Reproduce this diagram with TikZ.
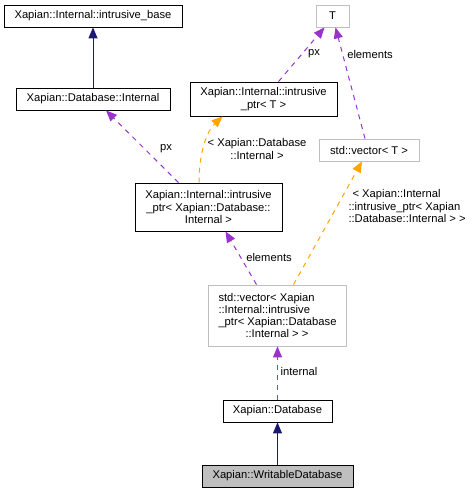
\documentclass[tikz,border=0pt]{standalone}
\usepackage{fontspec}
\setmainfont{Liberation Sans}
\usetikzlibrary{arrows.meta}
\definecolor{inherit}{HTML}{191970}
\definecolor{usage}{HTML}{9A32CD}
\definecolor{templ}{HTML}{FFA500}
\definecolor{boxgray}{HTML}{BFBFBF}
\begin{document}
\begin{tikzpicture}[x=1pt,y=-1pt,font=\fontsize{11.2}{12.3}\selectfont,
 cls/.style={draw=black,inner sep=0pt,align=center,minimum height=22pt,line width=.8pt},
 tmpl/.style={cls,draw=boxgray},
 lbl/.style={text=black,inner sep=0pt,align=center},
 inhedge/.style={-{Triangle[length=11pt,width=9pt]},inherit,line width=1pt},
 usedge/.style={-{Triangle[length=11pt,width=9pt]},usage,dash pattern=on 5pt off 5pt,line width=1pt},
 tpledge/.style={usedge,templ}]
\useasboundingbox (0,0) rectangle (474,492);
\node[cls,minimum width=178pt] (base) at (93,16) {Xapian::Internal::intrusive\_base};
\node[tmpl,minimum width=33pt] (T) at (332.5,16) {T};
\node[cls,minimum width=154pt] (dbint) at (93,99) {Xapian::Database::Internal};
\node[cls,minimum width=147pt,minimum height=34pt] (ptrT) at (263.5,99) {Xapian::Internal::intrusive\\\_ptr< T >};
\node[tmpl,minimum width=100pt] (vecT) at (369,150) {std::vector< T >};
\node[cls,minimum width=147pt,minimum height=48pt] (ptrdb) at (208.5,207) {Xapian::Internal::intrusive\\\_ptr< Xapian::Database::\\Internal >};
\node[tmpl,minimum width=138pt,minimum height=61pt,align=left] (vecX) at (277.5,315.5) {std::vector< Xapian\\::Internal::intrusive\\\_ptr< Xapian::Database\\\hspace*{27pt}::Internal > >};
\node[cls,minimum width=109pt] (db) at (277.5,411) {Xapian::Database};
\node[cls,minimum width=151pt,fill=boxgray] (wdb) at (277.5,476) {Xapian::WritableDatabase};
\draw[inhedge] (dbint) -- (base);
\draw[usedge] ([xshift=-30pt]ptrdb.north) -- ([xshift=13pt]dbint.south) node[lbl] (pxdb) at (166,149) {px};
\draw[tpledge] ([xshift=-9.5pt]ptrdb.north) .. controls (199,150) and (208,130) .. ([xshift=-41pt]ptrT.south) node[lbl] (argdb) at (257,149) {< Xapian::Database\\::Internal >};
\draw[usedge] ([xshift=15pt]ptrT.north) -- ([xshift=-8pt]T.south) node[lbl] (pxT) at (314,54) {px};
\draw[usedge] ([xshift=-4pt]vecT.north) -- ([xshift=3pt]T.south) node[lbl] (elT) at (370,54) {elements};
\draw[usedge] ([xshift=-21pt]vecX.north) -- ([xshift=17pt]ptrdb.south) node[lbl] (elX) at (269,257) {elements};
\draw[tpledge] ([xshift=16pt]vecX.north) -- ([xshift=-7pt]vecT.south) node[lbl,align=left,anchor=west] (argX) at (348,206) {\hspace*{4pt}< Xapian::Internal\\::intrusive\_ptr< Xapian\\::Database::Internal > >};
\draw[usedge] (db) -- (vecX) node[lbl] (intl) at (299,371) {internal};
\draw[inhedge] (wdb) -- (db);
\end{tikzpicture}
\end{document}
